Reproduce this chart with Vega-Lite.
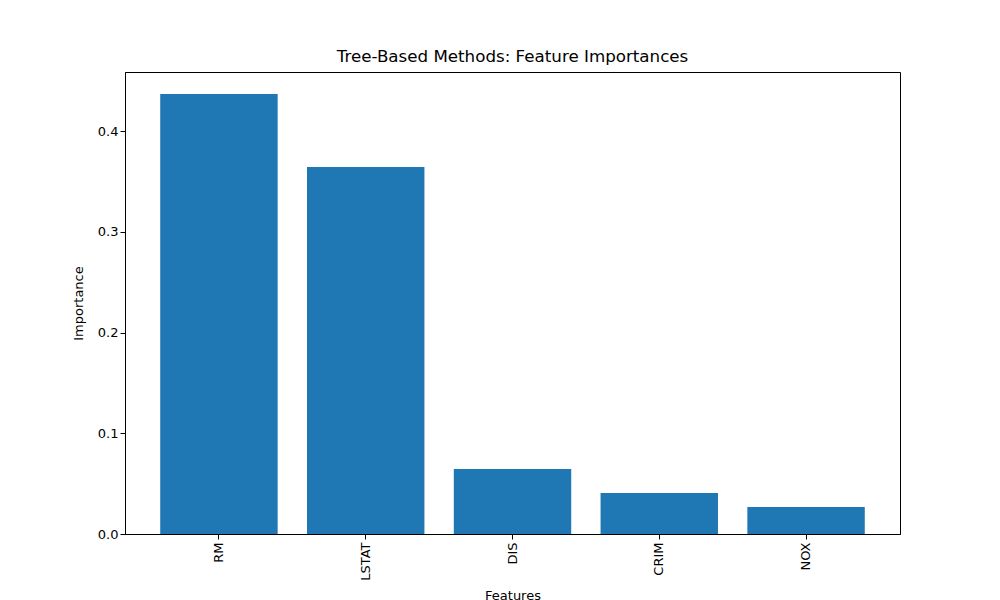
{
  "$schema": "https://vega.github.io/schema/vega-lite/v6.json",
  "width": 775,
  "height": 462,
  "autosize": {"type": "none"},
  "padding": {"left": 125, "top": 72, "right": 100, "bottom": 66},
  "background": "white",
  "title": {"text": "Tree-Based Methods: Feature Importances", "font": "DejaVu Sans", "fontSize": 16.7, "fontWeight": "normal", "color": "black", "offset": 6},
  "config": {
    "view": {"stroke": "black", "strokeWidth": 1},
    "axis": {
      "labelFont": "DejaVu Sans", "labelFontSize": 13, "labelColor": "black",
      "titleFont": "DejaVu Sans", "titleFontSize": 13, "titleFontWeight": "normal", "titleColor": "black",
      "domainColor": "black", "tickColor": "black", "tickSize": 5, "grid": false
    }
  },
  "data": {
    "values": [
      {"feature": "RM", "importance": 0.4367},
      {"feature": "LSTAT", "importance": 0.3643},
      {"feature": "DIS", "importance": 0.0645},
      {"feature": "CRIM", "importance": 0.0407},
      {"feature": "NOX", "importance": 0.0268}
    ]
  },
  "mark": {"type": "bar", "color": "#1f77b4"},
  "encoding": {
    "x": {
      "field": "feature", "type": "nominal", "sort": null, "title": "Features",
      "scale": {"paddingInner": 0.2, "paddingOuter": 0.24},
      "axis": {"labelAngle": -90, "labelPadding": 3, "titlePadding": 9}
    },
    "y": {
      "field": "importance", "type": "quantitative", "title": "Importance",
      "scale": {"domain": [0, 0.4586], "nice": false},
      "axis": {"values": [0, 0.1, 0.2, 0.3, 0.4], "format": ".1f", "titlePadding": 12}
    }
  }
}
